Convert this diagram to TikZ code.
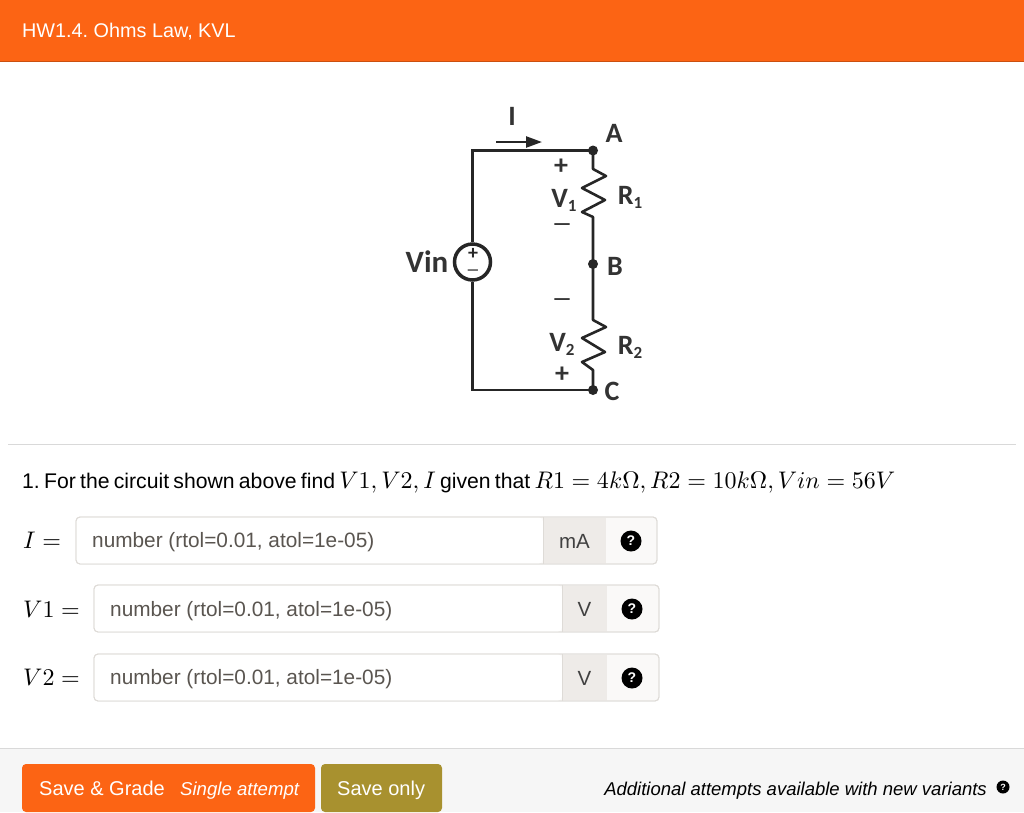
\documentclass[tikz,border=0pt]{standalone}
\usepackage{amsmath}
\usepackage{fontspec}
\setmainfont{Liberation Sans}
\newfontfamily\circfont{Carlito}
\usetikzlibrary{arrows.meta}

% one design size for the math, scaled freely
\DeclareFontShape{OT1}{cmr}{m}{n}{<->cmr10}{}
\DeclareFontShape{OML}{cmm}{m}{it}{<->cmmi10}{}
\DeclareFontShape{OMS}{cmsy}{m}{n}{<->cmsy10}{}

\definecolor{hdrorange}{HTML}{FC6414}
\definecolor{olivebtn}{HTML}{A8912F}
\definecolor{boxline}{HTML}{DEDBD7}
\definecolor{unitfill}{HTML}{EEEBE8}
\definecolor{helpfill}{HTML}{FAF9F8}
\definecolor{hinttext}{HTML}{5A5550}
\definecolor{footfill}{HTML}{F6F6F6}

\newcommand{\mathsz}{\fontsize{24}{26}\selectfont}
\newcommand{\circsub}[1]{\raisebox{-4pt}{\fontsize{17}{17}\selectfont #1}}
\newcommand{\tightspaces}{\spaceskip=.2em\relax}
\frenchspacing

\tikzset{
  wire/.style={line width=2.6pt,black!85},
  junction/.style={fill=black!85,circle,inner sep=0pt,minimum size=10pt},
  circlabel/.style={font=\circfont\bfseries\fontsize{28}{30}\selectfont,text=black!80,inner sep=0pt},
  bodytext/.style={font=\fontsize{20}{22}\selectfont,anchor=base west,inner sep=0pt},
  hint/.style={font=\fontsize{20.8}{22}\selectfont,anchor=west,inner sep=0pt,text=hinttext},
  mathlabel/.style={font=\mathsz,anchor=base west,inner sep=0pt},
  unit/.style={font=\fontsize{20.5}{22}\selectfont,inner sep=0pt,text=black!75},
  helpdot/.style={fill=black,circle,inner sep=0pt,minimum size=21pt,text=white,font=\bfseries\fontsize{14}{14}\selectfont},
  boxedge/.style={draw=boxline,line width=.9pt,rounded corners=4pt}
}

\begin{document}
\begin{tikzpicture}[x=1pt,y=-1pt]
    \useasboundingbox (0,0) rectangle (1024,812);
    \fill[white] (0,0) rectangle (1024,812);

    % header
    \fill[hdrorange] (0,0) rectangle (1024,61);
    \draw[hdrorange!80!black,line width=.8pt] (0,61) -- (1024,61);
    \node (title) at (22,37) [bodytext,text=white,font=\fontsize{19.8}{22}\selectfont] {HW1.4. Ohms Law, KVL};

    % circuit
    \coordinate (tl) at (472.5,150.5);
    \coordinate (bl) at (472.5,390);
    \node (A) at (593,150.5) [junction] {};
    \node (B) at (593,264) [junction] {};
    \node (C) at (593,390) [junction] {};
    \node (src) at (472.5,262) [circle,draw=black!85,line width=3.5pt,minimum size=36pt,inner sep=0pt] {};
    \draw[wire] (src.north) -- (tl) -- (A.center);
    \draw[wire] (src.south) -- (bl) -- (C.center);
    \draw[wire,line join=round] (A.center) -- (593,169) -- ++(13,7) -- ++(-24,12) -- ++(23,12) -- ++(-23,12) -- ++(11,5) -- (B.center);
    \draw[wire,line join=round] (B.center) -- (593,320) -- ++(13,7) -- ++(-24,11) -- ++(23,14) -- ++(-23,10) -- ++(11,8) -- (C.center);
    \node (srcplus) at (473,254) [inner sep=0pt,font=\circfont\bfseries\fontsize{20}{20}\selectfont,text=black!85] {+};
    \node (srcminus) at (473,272) [inner sep=0pt,font=\circfont\bfseries\fontsize{14}{14}\selectfont,text=black!85] {—};
    \coordinate (arrowtail) at (496,142);
    \coordinate (arrowhead) at (542,142);
    \draw[line width=2.4pt,black!85,-{Triangle[length=16pt,width=11pt]}] (arrowtail) -- (arrowhead);
    \node (Ilabel) at (512,116) [circlabel] {I};
    \node (Alabel) at (614,133) [circlabel] {A};
    \node (Blabel) at (615,266) [circlabel] {B};
    \node (Clabel) at (612,391) [circlabel] {C};
    \node (Vinlabel) at (427,262) [circlabel,font=\circfont\bfseries\fontsize{31}{32}\selectfont] {Vin};
    \node (R1label) at (630,197) [circlabel] {R\circsub{1}};
    \node (R2label) at (630,347) [circlabel] {R\circsub{2}};
    \node (V1label) at (564,200) [circlabel] {V\circsub{1}};
    \node (V2label) at (562,344) [circlabel] {V\circsub{2}};
    \node (V1plus) at (561,167) [circlabel] {+};
    \node (V1minus) at (562,227) [circlabel,font=\circfont\bfseries\fontsize{21}{21}\selectfont] {—};
    \node (V2minus) at (562,302) [circlabel,font=\circfont\bfseries\fontsize{21}{21}\selectfont] {—};
    \node (V2plus) at (562,375) [circlabel] {+};

    % divider
    \draw[black!15,line width=.8pt] (8,444) -- (1016,444);

    % question
    \node (question) at (22,488) [bodytext,font=\fontsize{21.2}{22}\selectfont] {\tightspaces 1. For the circuit shown above find {\mathsz $V1,V2,I$} given that {\mathsz $R1=4k\Omega,R2=10k\Omega,Vin=56V$}};

    % I
    \node (Ilab) at (23,548) [mathlabel] {$I=$};
    \draw[boxedge,fill=helpfill] (76,517) rectangle (657,564);
    \fill[white,rounded corners=4pt] (76.5,517.5) -- (543,517.5) -- (543,563.5) -- (76.5,563.5) -- cycle;
    \fill[unitfill] (543,517.5) rectangle (606,563.5);
    \draw[boxedge] (76,517) rectangle (657,564);
    \draw[boxline,line width=.7pt] (543,517) -- (543,564);
    \node (Ihint) at (92,542) [hint] {number (rtol=0.01, atol=1e-05)};
    \node (Iunit) at (574.5,541) [unit] {mA};
    \node (Ihelp) at (631,541) [helpdot] {?};

    % V1
    \node (Vonelab) at (23,617) [mathlabel] {$V1=$};
    \draw[boxedge,fill=helpfill] (94,585) rectangle (659,632);
    \fill[white,rounded corners=4pt] (94.5,585.5) -- (562,585.5) -- (562,631.5) -- (94.5,631.5) -- cycle;
    \fill[unitfill] (562,585.5) rectangle (607,631.5);
    \draw[boxedge] (94,585) rectangle (659,632);
    \draw[boxline,line width=.7pt] (562,585) -- (562,632);
    \node (Vonehint) at (110,611) [hint] {number (rtol=0.01, atol=1e-05)};
    \node (Voneunit) at (584.5,609.5) [unit] {V};
    \node (Vonehelp) at (632,609) [helpdot] {?};

    % V2
    \node (Vtwolab) at (23,685) [mathlabel] {$V2=$};
    \draw[boxedge,fill=helpfill] (94,654) rectangle (659,701);
    \fill[white,rounded corners=4pt] (94.5,654.5) -- (562,654.5) -- (562,700.5) -- (94.5,700.5) -- cycle;
    \fill[unitfill] (562,654.5) rectangle (607,700.5);
    \draw[boxedge] (94,654) rectangle (659,701);
    \draw[boxline,line width=.7pt] (562,654) -- (562,701);
    \node (Vtwohint) at (110,679.5) [hint] {number (rtol=0.01, atol=1e-05)};
    \node (Vtwounit) at (584.5,678) [unit] {V};
    \node (Vtwohelp) at (632,678) [helpdot] {?};

    % footer
    \fill[footfill] (0,748) rectangle (1024,812);
    \draw[black!15,line width=1pt] (0,748) -- (1024,748);
    \fill[hdrorange,rounded corners=4pt] (22,764) rectangle (315,812);
    \fill[olivebtn,rounded corners=4pt] (321,764) rectangle (442,812);
    \node (grade) at (39,795) [bodytext,text=white] {Save \& Grade};
    \node (single) at (180,795) [bodytext,text=white,font=\itshape\fontsize{18.6}{20}\selectfont] {Single attempt};
    \node (saveonly) at (337,795) [bodytext,text=white] {Save only};
    \node (more) at (987,795) [bodytext,anchor=base east,font=\itshape\fontsize{18.5}{20}\selectfont] {Additional attempts available with new variants};
    \node (morehelp) at (1003,787) [helpdot,minimum size=13pt,font=\bfseries\fontsize{9}{9}\selectfont] {?};
\end{tikzpicture}
\end{document}
